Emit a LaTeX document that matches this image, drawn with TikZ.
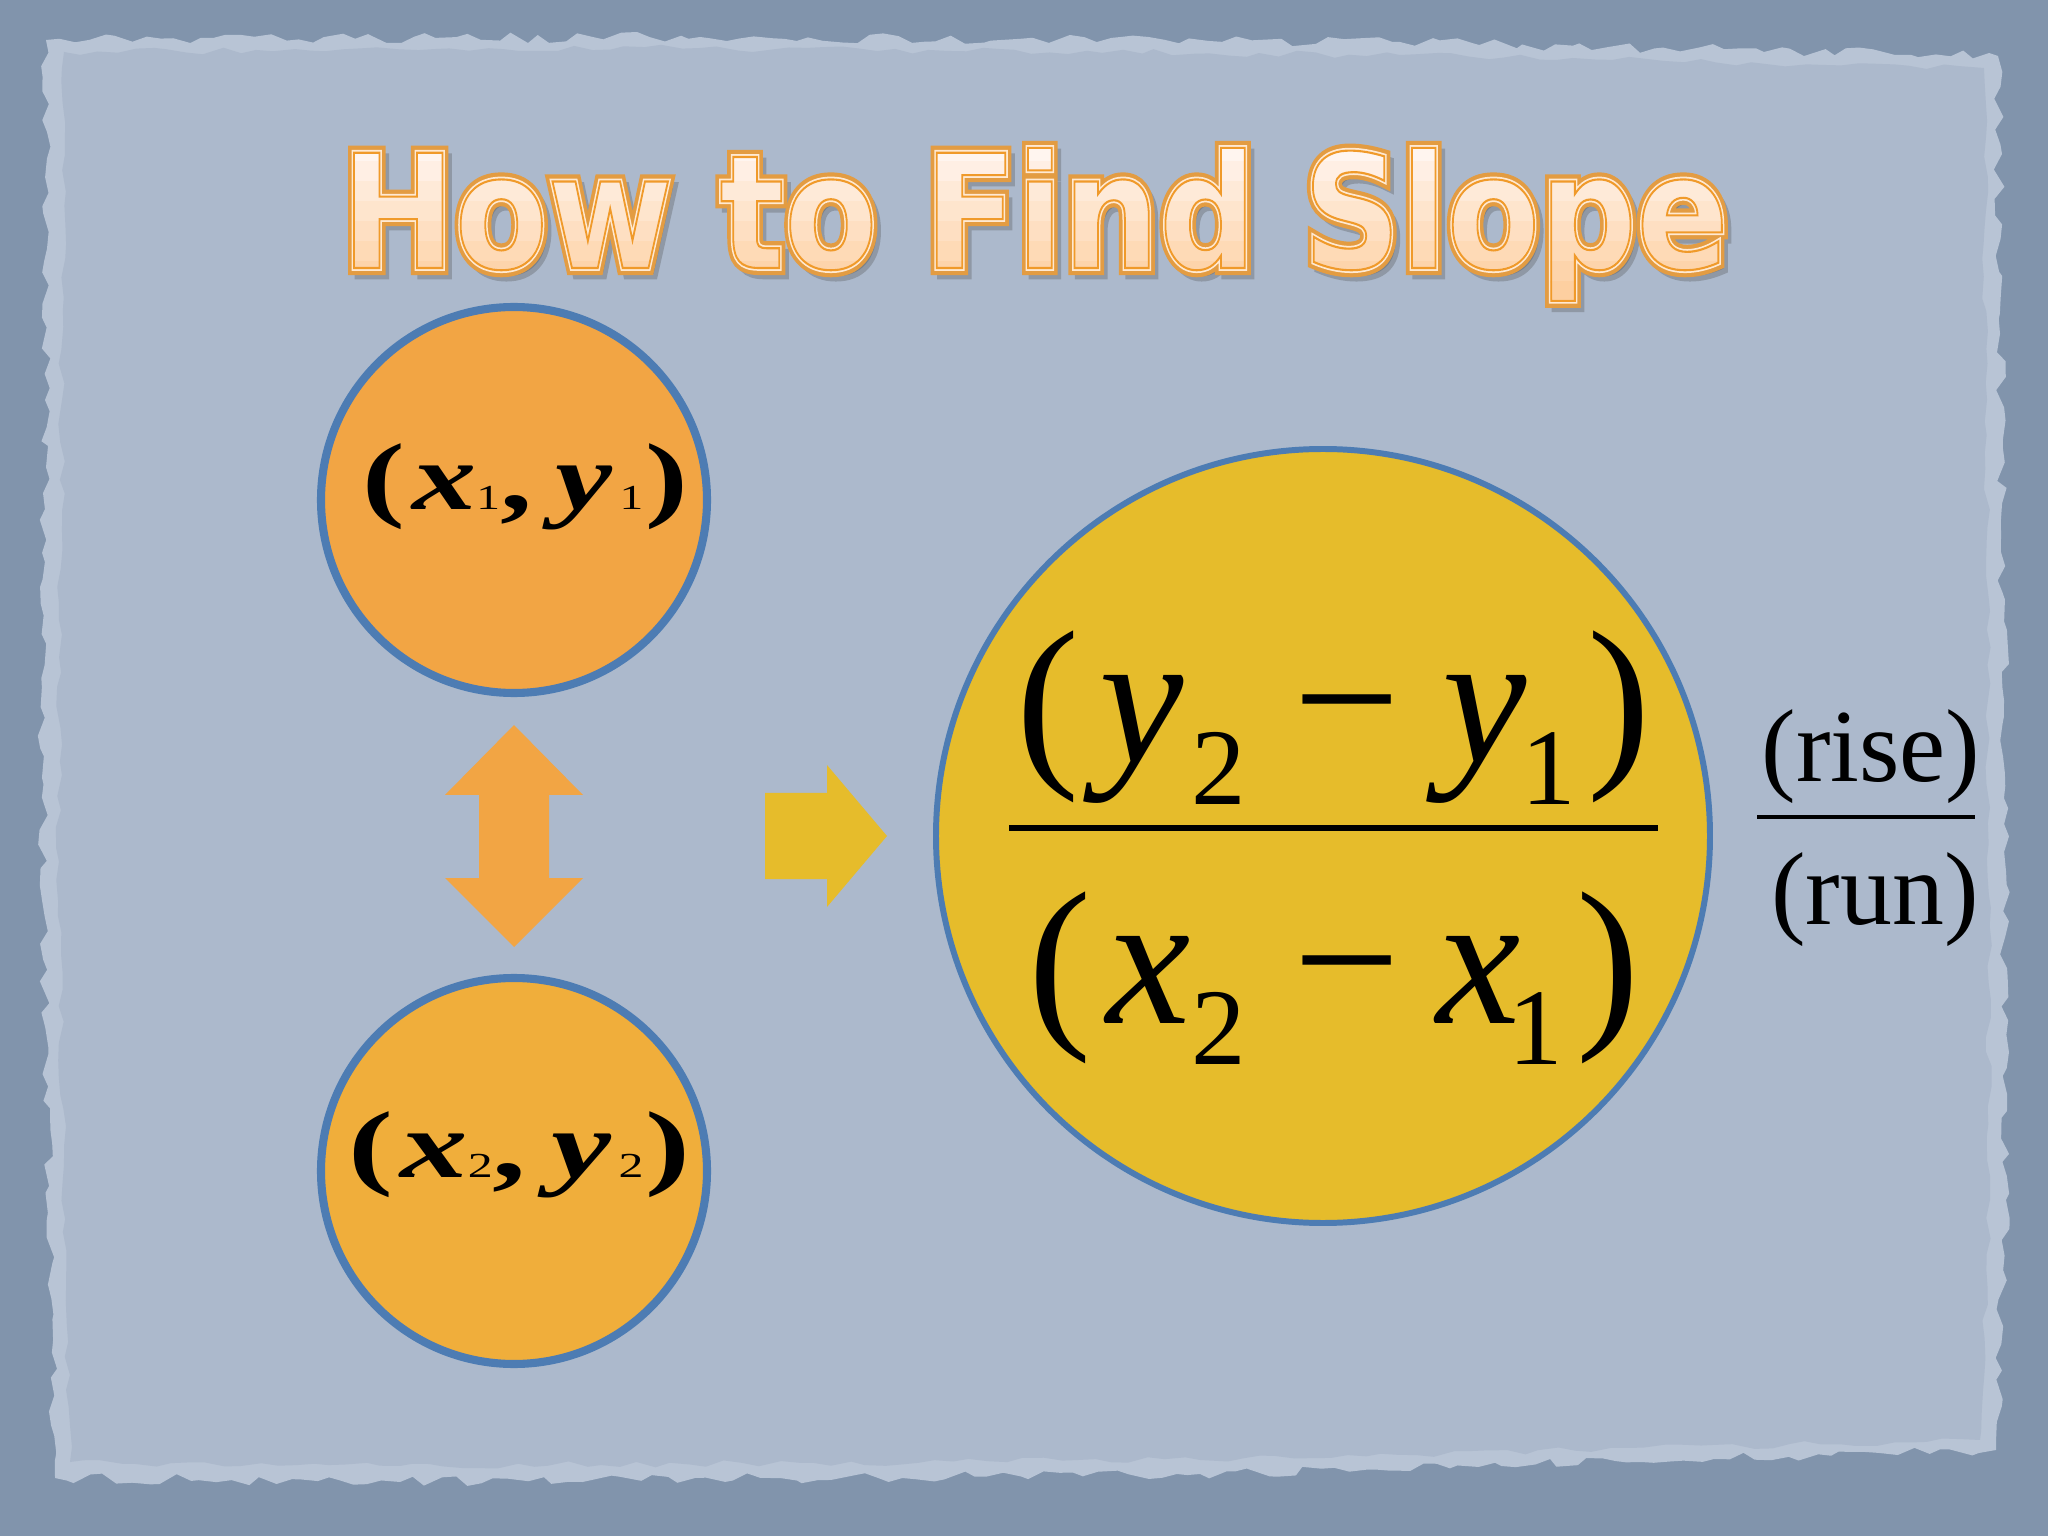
\documentclass[tikz,border=0pt]{standalone}
\usepackage{fontspec}
\usepackage{graphicx}
\setmainfont{Liberation Serif}
\newfontfamily\titlefont{DejaVu Sans}
\usetikzlibrary{decorations.pathmorphing}

\definecolor{frame}{HTML}{8194AC}
\definecolor{paperrim}{HTML}{B8C4D5}
\definecolor{paper}{HTML}{ACB9CC}
\definecolor{ring}{HTML}{4D7CB3}
\definecolor{orangeA}{HTML}{F2A544}
\definecolor{orangeB}{HTML}{F0AE3B}
\definecolor{gold}{HTML}{E6BC2B}
\definecolor{ttlrim}{HTML}{E39C42}
\definecolor{ttlline}{HTML}{F09A2A}
\definecolor{ttlgap}{HTML}{FFE9D2}
\definecolor{ttltop}{HTML}{FFF5EF}
\definecolor{ttlbot}{HTML}{FDCE9E}

\newcommand{\ttl}{\scalebox{0.855}[1]{\bfseries How to Find Slope}}
\newcommand{\outline}[2]{\special{pdf:literal direct #1 Tr #2 w}}
\newcommand{\lo}[1]{\raisebox{-0.42cm}{\fontsize{31}{31}\selectfont #1}}
\newcommand{\sm}[1]{{\fontsize{10}{10}\selectfont #1}}
\newcommand{\pair}[2][1.35]{\scalebox{#1}[1]{\textbf{(}\hspace{0.05cm}\textbf{\textit{x}}\sm{#2}\textbf{,}\hspace{0.175cm}\textbf{\textit{y}}\hspace{0.05cm}\sm{#2}\hspace{0.015cm}\textbf{)}}}

\tikzset{
    ttl/.style = {inner sep = 0pt, anchor = base,
        font = \titlefont\fontsize{45}{54}\selectfont},
    pt/.style = {circle, draw = ring, line width = 2.3pt,
        minimum size = 3.86cm, inner sep = 0pt},
    ptlabel/.style = {inner sep = 0pt, anchor = base,
        font = \fontsize{27}{30}\selectfont},
    frac/.style = {inner sep = 0pt, anchor = base west,
        font = \fontsize{54}{60}\selectfont},
    word/.style = {inner sep = 0pt, anchor = base,
        font = \fontsize{29.5}{32}\selectfont},
}

\begin{document}
\begin{tikzpicture}[x = 1cm, y = -1cm]
    \useasboundingbox (0, 0) rectangle (20.48, 15.36);
    \pgfmathsetseed{7}

    \fill [frame] (0, 0) rectangle (20.48, 15.36);
    \fill [paperrim, decorate,
        decoration = {random steps, segment length = 4pt, amplitude = 1.5pt}]
        (0.46, 0.40) -- (7.0, 0.37) -- (14.0, 0.42) -- (19.98, 0.56)
        -- (20.04, 7.0) -- (20.06, 12.0) -- (19.96, 14.50)
        -- (12.0, 14.74) -- (4.0, 14.82) -- (0.55, 14.78)
        -- (0.42, 9.0) -- (0.45, 4.0) -- cycle;
    \fill [paper, decorate,
        decoration = {random steps, segment length = 5pt, amplitude = 1pt}]
        (0.64, 0.52) -- (7.0, 0.48) -- (14.0, 0.55) -- (19.84, 0.68)
        -- (19.88, 7.0) -- (19.90, 12.0) -- (19.80, 14.40)
        -- (12.0, 14.60) -- (4.0, 14.66) -- (0.70, 14.62)
        -- (0.58, 9.0) -- (0.62, 4.0) -- cycle;

    % title
    \node [ttl, text = black!70, opacity = 0.3] (ttlshadow) at (10.40, 2.74) {\outline{2}{3}\ttl\outline{0}{1}};
    \node [ttl, text = ttlrim] (ttlout) at (10.35, 2.68) {\outline{2}{4.0}\ttl\outline{0}{1}};
    \node [ttl, text = ttlgap] (ttlmid) at (10.35, 2.68) {\outline{1}{1.6}\ttl\outline{0}{1}};
    \foreach \i in {0, ..., 7} {
        \pgfmathtruncatemacro\mix{100 - \i * 14}
        \begin{scope}
            \clip (3.0, 1.42 + \i * 0.2) rectangle (17.8, 1.63 + \i * 0.2);
            \node [ttl, text = ttltop!\mix!ttlbot] (band\i) at (10.35, 2.68) {\ttl};
        \end{scope}
    }
    \node [ttl, text = ttlline] (ttledge) at (10.35, 2.68) {\outline{1}{0.6}\ttl\outline{0}{1}};

    % the two points
    \node [pt, fill = orangeA] (p1) at (5.14, 5.00) {};
    \node [pt, fill = orangeB] (p2) at (5.14, 11.71) {};
    \node [ptlabel] (p1txt) at (5.255, 5.10) {\pair{1}};
    \node [ptlabel] (p2txt) at (5.195, 11.77) {\pair[1.42]{2}};

    \fill [orangeA]
        (5.14, 7.25) -- ++(0.69, 0.70) -- ++(-0.34, 0) -- ++(0, 0.83)
        -- ++(0.34, 0) -- ++(-0.69, 0.69) -- ++(-0.69, -0.69)
        -- ++(0.34, 0) -- ++(0, -0.83) -- ++(-0.34, 0) -- cycle;
    \fill [gold]
        (7.65, 7.93) -- ++(0.62, 0) -- ++(0, -0.28) -- ++(0.60, 0.71)
        -- ++(-0.60, 0.71) -- ++(0, -0.28) -- ++(-0.62, 0) -- cycle;

    % slope
    \node [circle, draw = ring, line width = 1.7pt, fill = gold,
        minimum size = 7.74cm, inner sep = 0pt] (slope) at (13.23, 8.36) {};
    \node [frac] (num) at (10.16, 7.63)
        {(\hspace{0.20cm}\textit{y}\hspace{0.07cm}\lo{2}\hspace{0.475cm}−\hspace{0.42cm}\textit{y}\hspace{-0.05cm}\lo{1}\hspace{0.11cm})};
    \node [frac] (den) at (10.28, 10.23)
        {(\hspace{0.15cm}\textit{x}\lo{2}\hspace{0.475cm}−\hspace{0.36cm}\textit{x}\hspace{-0.12cm}\lo{1}\hspace{0.14cm})};
    \draw [line width = 0.06cm] (10.09, 8.28) -- (16.58, 8.28);

    \node [word] (rise) at (18.71, 7.82) {(rise)};
    \node [word] (run) at (18.75, 9.24) {(run)};
    \draw [line width = 1pt] (17.57, 8.17) -- (19.75, 8.17);
\end{tikzpicture}
\end{document}
